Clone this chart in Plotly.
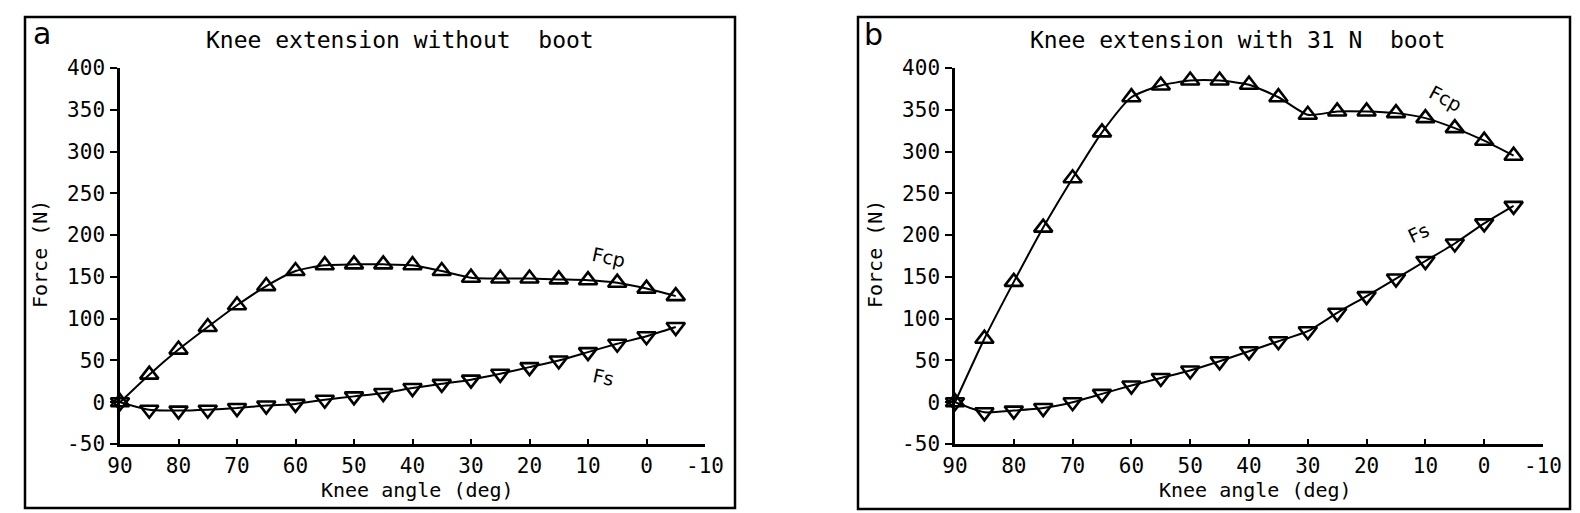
import plotly.graph_objects as go

W, H = 1580, 513

# ---- data ----
angles = [90, 85, 80, 75, 70, 65, 60, 55, 50, 45, 40, 35, 30, 25, 20, 15, 10, 5, 0, -5]
a_fcp = [0, 33, 63, 90, 116, 139, 157, 164, 165, 165, 164, 157, 149, 148, 148, 147, 146, 143, 136, 127]
a_fs = [0, -9, -10, -9, -7, -4, -2, 3, 7, 11, 17, 22, 27, 34, 42, 50, 60, 70, 79, 90]
b_fcp = [0, 76, 144, 209, 268, 323, 365, 379, 385, 385, 380, 365, 344, 348, 348, 346, 340, 328, 313, 295]
b_fs = [0, -12, -10, -7, 0, 10, 20, 29, 38, 49, 61, 73, 85, 107, 127, 148, 169, 190, 214, 235]

y_ticks = [-50, 0, 50, 100, 150, 200, 250, 300, 350, 400]
x_ticks = [90, 80, 70, 60, 50, 40, 30, 20, 10, 0, -10]
titles = ["Knee\u00a0extension\u00a0without\u00a0\u00a0boot", "Knee\u00a0extension\u00a0with\u00a031\u00a0N\u00a0\u00a0boot"]
panel_letters = ["a", "b"]
x_title = "Knee angle (deg)"
y_title = "Force (N)"

FONT = "DejaVu Sans Mono, DejaVu Sans, monospace"


def px(x):
    return x / W


def py(y):
    return 1 - y / H


fig = go.Figure()

series = [
    ("x", "y", a_fcp, a_fs),
    ("x2", "y2", b_fcp, b_fs),
]
for xa, ya, fcp, fs in series:
    fig.add_trace(go.Scatter(
        x=angles, y=fs, xaxis=xa, yaxis=ya, mode="lines+markers",
        line=dict(color="black", width=2, shape="spline", smoothing=0.6),
        marker=dict(symbol="triangle-down-open", size=16, color="black", line=dict(width=2.6, color="black")),
        showlegend=False, cliponaxis=False))
    fig.add_trace(go.Scatter(
        x=angles, y=fcp, xaxis=xa, yaxis=ya, mode="lines+markers",
        line=dict(color="black", width=2, shape="spline", smoothing=0.6),
        marker=dict(symbol="triangle-up-open", size=16, color="black", line=dict(width=2.6, color="black")),
        showlegend=False, cliponaxis=False))

xdom = [[px(120), px(705)], [px(955), px(1543)]]
ydom = [py(444), py(68)]

common_x = dict(range=[90, -10], tickvals=x_ticks, ticktext=[str(v) for v in x_ticks],
                showline=True, linecolor="black", linewidth=2.5, ticks="inside", ticklen=5,
                tickwidth=2, tickcolor="black", showgrid=False, zeroline=False, automargin=False,
                tickfont=dict(family=FONT, size=21, color="black"), ticklabelstandoff=1)
common_y = dict(range=[-50, 400], tickvals=y_ticks, ticktext=[str(v) for v in y_ticks],
                showline=True, linecolor="black", linewidth=2.5, ticks="outside", ticklen=7,
                tickwidth=2, tickcolor="black", showgrid=False, zeroline=False, automargin=False,
                tickfont=dict(family=FONT, size=21, color="black"), ticklabelstandoff=1)

fig.update_layout(
    template="none",
    width=W, height=H, margin=dict(l=0, r=0, t=0, b=0, pad=0), autosize=False,
    paper_bgcolor="white", plot_bgcolor="white", showlegend=False,
    xaxis=dict(domain=xdom[0], anchor="y", **common_x),
    yaxis=dict(domain=ydom, anchor="x", **common_y),
    xaxis2=dict(domain=xdom[1], anchor="y2", **common_x),
    yaxis2=dict(domain=ydom, anchor="x2", **common_y),
)

# outer boxes
boxes = [(25, 17, 735, 508), (858, 17, 1570, 509)]
for x0, y0, x1, y1 in boxes:
    fig.add_shape(type="rect", xref="paper", yref="paper",
                  x0=px(x0), y0=py(y1), x1=px(x1), y1=py(y0),
                  line=dict(color="black", width=2.5))

ann = []


def note(text, x, y, size, family=FONT, angle=0):
    ann.append(dict(text=text, x=px(x), y=py(y), xref="paper", yref="paper",
                    xanchor="center", yanchor="middle", textangle=angle,
                    showarrow=False, font=dict(family=family, size=size, color="black")))


# panel letters
for letter, (lx, ly) in zip(panel_letters, [(42, 33), (874, 34)]):
    note(letter, lx, ly, 30, family="DejaVu Sans")
# titles
for t, (tx, ty) in zip(titles, [(400, 40), (1237, 40)]):
    note(t, tx, ty, 23)
# axis titles
for cx in [417, 1255]:
    note(x_title, cx, 490, 20)
for cx in [40, 875]:
    note(y_title, cx, 254, 20, angle=-90)
# curve labels
curve_labels = [("Fcp", 608, 257, 12), ("Fs", 603, 377, 12),
                ("Fcp", 1445, 98, 28), ("Fs", 1418, 233, -25)]
for t, lx, ly, ang in curve_labels:
    note(t, lx, ly, 19, family="DejaVu Sans", angle=ang)

fig.update_layout(annotations=ann)

fig.write_html("out.html")
